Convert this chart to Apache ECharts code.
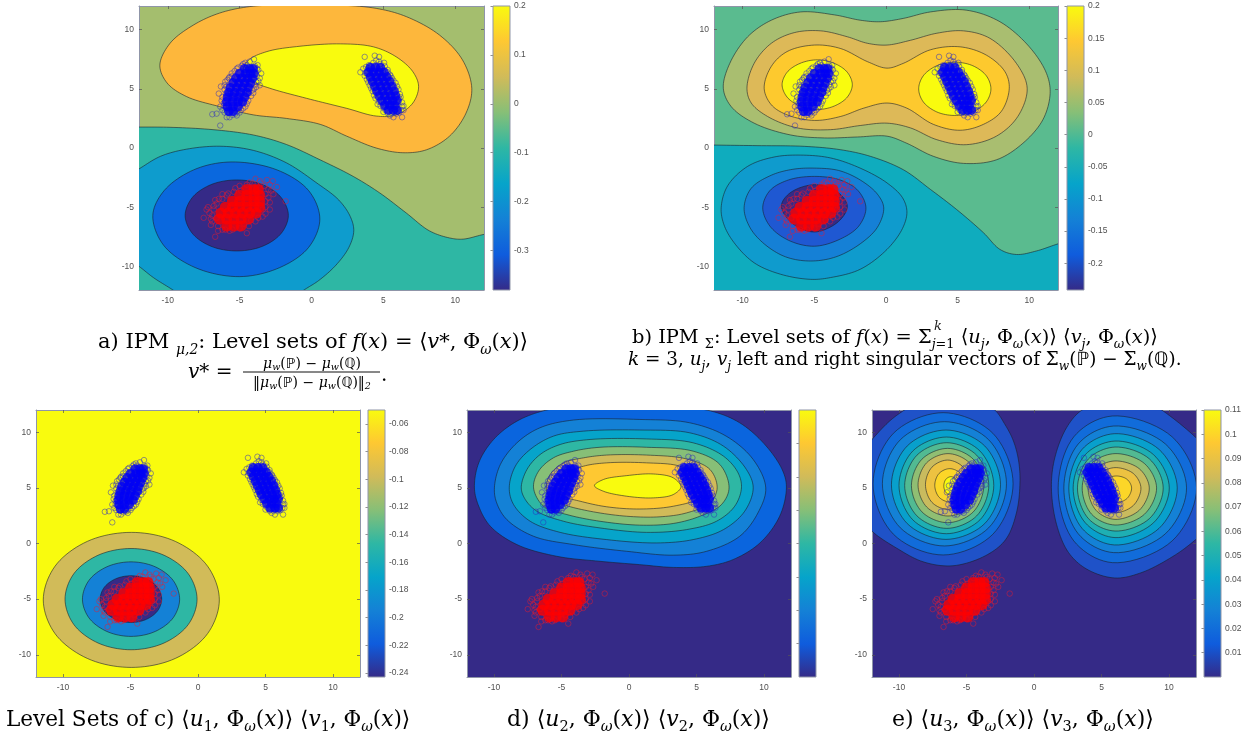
<!DOCTYPE html>
<html><head><meta charset="utf-8"><style>html,body{margin:0;padding:0;background:#fff}#c{width:1256px;height:733px}</style>
<script src="https://cdn.jsdelivr.net/npm/echarts@6/dist/echarts.min.js"></script></head><body><div id="c"></div><script>
const xTickValues=[-10,-5,0,5,10], yTickValues=[-10,-5,0,5,10];
const parula=['#352A87','#0F5CDD','#1481D6','#06A4CA','#2EB7A4','#87BF77','#D1BB59','#FEC832','#F9FB0E'];

const blueLeftCore=[[-5.75,3.1],[-5.45,3.1],[-5.85,3.5],[-5.45,3.5],[-5.1,3.5],[-5.9,3.9],[-5.5,3.9],[-5.1,3.9],[-4.8,3.9],[-5.85,4.3],[-5.45,4.3],[-5.05,4.3],[-4.65,4.3],[-5.75,4.7],[-5.35,4.7],[-4.95,4.7],[-4.5,4.7],[-5.65,5.1],[-5.2,5.1],[-4.8,5.1],[-4.4,5.1],[-5.45,5.5],[-5.05,5.5],[-4.65,5.5],[-4.25,5.5],[-5.25,5.9],[-4.85,5.9],[-4.45,5.9],[-4.1,5.9],[-5,6.3],[-4.6,6.3],[-4.25,6.3],[-4,6.3],[-4.65,6.7],[-4.3,6.7],[-4.05,6.7]];
const blueLeft=[[-6.35,1.9],[-6.9,2.85],[-6.6,2.9],[-5.9,2.6],[-5.7,2.6],[-6.2,3.2],[-6.35,3.5],[-5.3,2.9],[-5.5,2.8],[-5.15,3.1],[-6.1,3.8],[-6.45,4.6],[-6.2,4.3],[-6.3,5.2],[-6,5.6],[-6.05,4.95],[-5.7,6],[-5.75,5.9],[-5.35,6.5],[-5.1,6.8],[-4.75,7.1],[-4.3,7.3],[-4,7.5],[-3.75,7],[-3.5,6.3],[-3.7,6.6],[-3.6,5.9],[-3.6,5.3],[-3.85,5.6],[-4,5],[-4.2,4.4],[-4.4,4],[-4.6,3.5],[-4.9,3.2],[-4.1,4.9],[-5.95,4.6],[-5.95,3.4],[-3.8,6.1],[-3.8,6.7],[-4.5,7],[-5.9,5.2],[-5.55,6.3],[-5,3],[-6.1,3.55],[-5.55,6.05],[-4.85,6.95],[-4.35,4.65],[-3.95,5.35],[-6.25,4],[-6.05,5.3],[-5.85,5.75],[-5.2,6.7],[-4.6,7.2],[-3.95,6.95],[-3.7,5.65],[-3.85,5.15],[-4.05,4.65],[-4.5,3.75],[-4.75,3.35],[-5.2,2.75],[-6.05,3],[-5.75,2.95]];
const blueRightCore=[[4.1,6.8],[4.45,6.8],[4.8,6.8],[3.95,6.4],[4.3,6.4],[4.7,6.4],[5.05,6.4],[4.1,6],[4.5,6],[4.9,6],[5.25,6],[4.25,5.6],[4.65,5.6],[5.05,5.6],[5.45,5.6],[4.4,5.2],[4.8,5.2],[5.2,5.2],[5.6,5.2],[4.55,4.8],[4.95,4.8],[5.35,4.8],[5.75,4.8],[4.7,4.4],[5.1,4.4],[5.5,4.4],[5.85,4.4],[4.9,4],[5.3,4],[5.65,4],[5.95,4],[5.1,3.6],[5.45,3.6],[5.8,3.6],[5.35,3.2],[5.7,3.2],[5.95,3.2]];
const blueRight=[[3.7,7.7],[4.4,7.8],[4.7,7.7],[4.5,7.4],[3.4,6.4],[3.6,6.7],[4,7],[4.3,7.2],[3.8,6.85],[4.8,7.1],[5.1,6.9],[5.3,6.4],[5.6,5.9],[5.85,5.5],[6.05,4.95],[6.2,4.3],[6.15,4.55],[6.3,3.5],[6.4,3.2],[6.3,2.6],[6.1,3],[5.7,2.6],[5.9,2.9],[5.3,2.95],[5,3.4],[4.7,3.9],[4.45,4.2],[4.25,4.8],[4.05,5.3],[3.85,5.8],[3.7,6.1],[5,3.05],[4.8,3.55],[6.3,3.85],[5.6,2.95],[5.3,6.6],[5.45,6.2],[3.95,5.55],[4.7,7.3],[5.05,7.2],[3.95,6.75],[4.15,5.05],[6.1,4.2],[5.7,5.7],[5.5,6.1],[5.95,5.2],[3.75,6.35],[4.35,4.45],[4.6,3.7],[5.15,3.2],[5.45,2.75],[6.25,3.2],[6.4,3.55]];
const redCore=[[-5.9,-6.6],[-5.4,-6.6],[-4.9,-6.6],[-6.4,-6],[-5.9,-6],[-5.4,-6],[-4.9,-6],[-4.4,-6],[-6.3,-5.5],[-5.8,-5.5],[-5.3,-5.5],[-4.8,-5.5],[-4.3,-5.5],[-3.85,-5.5],[-6,-5],[-5.5,-5],[-5,-5],[-4.5,-5],[-4,-5],[-3.6,-5],[-5.5,-4.5],[-5,-4.5],[-4.5,-4.5],[-4,-4.5],[-3.6,-4.5],[-5,-4],[-4.5,-4],[-4,-4],[-3.6,-4],[-4.5,-3.5],[-4,-3.5],[-3.7,-3.5]];
const red=[[-3.9,-2.6],[-3.1,-2.7],[-2.7,-2.8],[-2.4,-3.3],[-1.8,-4.5],[-2.8,-3.6],[-2.65,-3.9],[-6.7,-7.5],[-4.5,-7.2],[-3.4,-5.8],[-7.5,-5.9],[-7.3,-5.2],[-7.2,-5],[-6.5,-7],[-7,-6.5],[-6.8,-5.2],[-6.9,-5.7],[-6.6,-4.7],[-6.2,-4.3],[-5.9,-4],[-5.4,-3.7],[-5,-3.2],[-4.5,-3.1],[-4.1,-3],[-3.5,-3],[-3.3,-3.2],[-3,-3.5],[-3,-4.2],[-2.9,-4.6],[-3.2,-5],[-3.4,-5.2],[-3.7,-5.9],[-4.2,-6.1],[-4.7,-6.4],[-5,-6.8],[-5.5,-6.9],[-6,-6.9],[-6.5,-6.6],[-7,-6],[-3.2,-3.9],[-2.9,-3.1],[-6.6,-5.9],[-3.2,-4.5],[-4.9,-3.6],[-5.7,-7],[-6.9,-6.2],[-6.45,-4.3],[-5.8,-3.85],[-6.8,-4.9],[-4.35,-6.6],[-5.3,-3.4],[-3.6,-2.8],[-4.3,-2.9],[-2.9,-5.2],[-3.2,-5.55],[-3.9,-6.2],[-6.2,-6.9],[-7.1,-5.5],[-6.2,-3.9],[-6.7,-4.4]];

// Panel a
const aOrange=[[-10.55,7],[-9.84,8.85],[-8.2,10.4],[-6.4,11.4],[-4.3,11.95],[-1.7,12.1],[1.5,12.1],[4.5,11.8],[6.6,11.1],[8.9,9.55],[10.5,7.45],[11.15,5.05],[10.75,2.95],[9.6,1],[8,-0.15],[6.35,-0.4],[4.5,0],[2.45,1],[0.6,2],[-1.75,2.5],[-4.05,2.8],[-6.4,3.5],[-8.7,4.35],[-10.05,5.5]];
const aYellow=[[-4.4,7.4],[-3.1,8.15],[-0.8,8.6],[2,8.8],[4.3,8.55],[5.9,7.7],[7.05,6.45],[7.45,5.2],[7.05,3.8],[5.9,2.8],[4.5,2.7],[2.45,3.35],[-0.35,4.2],[-2.9,5.05],[-4.05,5.6],[-4.75,6.45]];
const aTeal=[[-14,1.77],[-12,1.77],[-9.85,1.75],[-6.85,1.55],[-4.05,1.1],[-1.75,0.3],[0.6,-1],[2.9,-2.4],[4.75,-3.8],[6.6,-5.5],[8.2,-7],[9.6,-7.6],[10.55,-7.7],[12,-7.3],[14,-6.9],[15,-15],[-15,-15]];
const aCyan=[[-14,-3.3],[-12,-1.77],[-10.5,-0.7],[-8.7,-0.1],[-6.37,0.15],[-4.05,-0.2],[-1.75,-1.25],[0.3,-2.9],[1.9,-4.4],[2.7,-5.8],[2.94,-7],[2.6,-8.4],[1.7,-9.9],[0.5,-11.2],[-0.46,-11.95],[-3,-14],[-5,-15],[-8.4,-13],[-9.7,-11.95],[-11,-10.95],[-12,-10],[-14,-8.3]];
const aBlue=[[0.58,-6],[-0.2,-3.6],[-2.4,-1.85],[-5.6,-1.18],[-8.2,-1.85],[-10.25,-3.6],[-11.04,-5.7],[-10.3,-8.2],[-8.1,-10.1],[-5,-10.87],[-2.2,-10.1],[-0.2,-8.4]];
const aNavy=[[-1.61,-5.7],[-2.1,-4.2],[-3.4,-3.1],[-5.2,-2.7],[-7,-3.1],[-8.3,-4.2],[-8.79,-5.7],[-8.3,-7.2],[-7,-8.3],[-5.2,-8.7],[-3.4,-8.3],[-2.1,-7.2]];
const aTicks=[-0.3,-0.2,-0.1,0,0.1,0.2];

// Panel b
const bOlive=[[-11.35,5.05],[-10.9,7.15],[-9.65,9.4],[-8,10.8],[-5.95,11.5],[-3.6,11.25],[-1.8,10.8],[-0.4,10.67],[1.2,10.95],[3.1,11.5],[5.6,11.65],[7.95,10.67],[10,8.55],[11.2,6.3],[11.45,4.6],[10.95,2.4],[9.55,0.4],[7.7,-1],[5.4,-1.3],[3.3,-0.7],[1.45,0.4],[0.07,1],[-2,0.93],[-4.3,0.85],[-6.65,1.1],[-9.2,2.1],[-10.8,3.5]];
const bTan=[[-9.7,5.05],[-9.2,7.15],[-8,8.85],[-6.4,9.75],[-4.55,9.9],[-2.7,9.4],[-1.3,8.85],[0.07,8.7],[1.7,9.1],[3.55,9.7],[5.4,9.9],[7.25,9.27],[9.1,7.15],[9.85,5.05],[9.2,2.67],[7.7,1],[5.6,0.28],[3.55,0.7],[1.7,1.7],[0.07,2.1],[-1.8,1.9],[-3.87,1.55],[-6.2,1.7],[-8.27,2.67],[-9.4,3.8]];
const bGold=[[-8.5,5.05],[-8,6.9],[-6.9,8.15],[-5,8.7],[-3.15,8.4],[-1.3,7.3],[0.07,6.75],[1.2,7.15],[3.1,8.3],[5.17,8.55],[7,7.85],[8.3,6.45],[8.6,5.05],[8.05,3.1],[6.8,2],[5.17,1.5],[3.3,2],[1.45,3.37],[0.07,3.8],[-1.55,3.37],[-3.15,2.67],[-5,2.33],[-6.9,2.8],[-8,3.65]];
const bYellowL=[[-2.35,5.35],[-2.7,6.4],[-3.6,7.15],[-4.8,7.45],[-6,7.15],[-6.9,6.4],[-7.25,5.35],[-6.9,4.3],[-6,3.55],[-4.8,3.25],[-3.6,3.55],[-2.7,4.3]];
const bYellowR=[[7.32,5],[7,6.1],[6.06,6.95],[4.8,7.25],[3.54,6.95],[2.6,6.1],[2.28,5],[2.6,3.9],[3.54,3.05],[4.8,2.75],[6.06,3.05],[7,3.9]];
const bTeal=[[-14,0.3],[-12,0.25],[-9,0.2],[-5.7,0.14],[-3.2,-0.14],[-1.1,-0.7],[1.2,-1.83],[3.1,-3.5],[4.93,-5.2],[6.8,-7.16],[7.95,-8.57],[9.1,-9],[10.5,-8.7],[12,-8.1],[14,-7.4],[15,-15],[-15,-15]];
const bC1=[[-11.5,-5.05],[-11.05,-3.2],[-9.65,-1.55],[-7.8,-0.76],[-5.95,-0.6],[-3.87,-0.84],[-1.8,-1.7],[0.07,-2.95],[1.15,-4.2],[1.46,-5.4],[1.15,-6.8],[0.07,-8.57],[-1.8,-10.25],[-3.87,-10.95],[-5.25,-11.1],[-7.35,-10.67],[-9.2,-9.7],[-10.6,-8],[-11.3,-6.5]];
const bC2=[[-9.9,-5.05],[-9.4,-3.4],[-8,-2.3],[-6.5,-1.8],[-5,-1.7],[-3.3,-1.9],[-1.8,-2.7],[-0.6,-3.9],[-0.16,-5.05],[-0.6,-6.7],[-1.8,-8.1],[-3.5,-9.2],[-5.25,-9.55],[-7,-9.2],[-8.5,-8.1],[-9.5,-6.7]];
const bC3=[[-8.6,-5.05],[-8.1,-3.6],[-6.8,-2.7],[-5,-2.4],[-3.2,-2.7],[-1.95,-3.6],[-1.4,-5.05],[-1.9,-6.6],[-3.2,-7.7],[-5,-8.3],[-6.8,-7.8],[-8.1,-6.6]];
const bC4=[[-7.3,-4.9],[-6.7,-3.8],[-5,-3.1],[-3.4,-3.7],[-2.7,-4.9],[-3.3,-6.2],[-5,-7.1],[-6.6,-6.3]];
const bTicks=[-0.2,-0.15,-0.1,-0.05,0,0.05,0.1,0.15,0.2];

// Panel c
const cTan=[[1.58,-5.07],[0.71,-2.04],[-1.68,0.19],[-4.94,1],[-8.2,0.19],[-10.59,-2.04],[-11.46,-5.07],[-10.59,-8.1],[-8.2,-10.33],[-4.94,-11.14],[-1.68,-10.33],[0.71,-8.1]];
const cTeal=[[-0.07,-5],[-0.72,-2.72],[-2.51,-1.06],[-4.96,-0.45],[-7.41,-1.06],[-9.2,-2.72],[-9.85,-5],[-9.2,-7.28],[-7.41,-8.94],[-4.96,-9.55],[-2.51,-8.94],[-0.72,-7.28]];
const cBlue=[[-1.36,-5],[-1.84,-3.32],[-3.16,-2.1],[-4.96,-1.65],[-6.76,-2.1],[-8.08,-3.32],[-8.56,-5],[-8.08,-6.68],[-6.76,-7.9],[-4.96,-8.35],[-3.16,-7.9],[-1.84,-6.68]];
const cNavy=[[-2.69,-5],[-2.99,-3.95],[-3.83,-3.18],[-4.97,-2.9],[-6.11,-3.18],[-6.95,-3.95],[-7.25,-5],[-6.95,-6.05],[-6.11,-6.82],[-4.97,-7.1],[-3.83,-6.82],[-2.99,-6.05]];
const cTicks=[-0.24,-0.22,-0.2,-0.18,-0.16,-0.14,-0.12,-0.1,-0.08,-0.06];

// Panel d
const d1=[[-11.45,5],[-11.13,7.25],[-10.03,9.35],[-8.3,11],[-6.1,12],[-3.6,12.35],[1.3,12.4],[5.75,12],[8.2,10.85],[10.17,8.75],[11.4,6.5],[11.66,5],[11.16,2.45],[9.7,0.05],[7.7,-1.45],[5.75,-2.05],[3.28,-2.15],[0.8,-1.9],[-2.15,-1.6],[-5.35,-1.15],[-8.3,-0.1],[-10.27,1.55],[-11.13,3.35]];
const d2=[[-9.97,5],[-9.53,7.1],[-8.3,9.05],[-6.6,10.4],[-4.1,11.1],[0.8,11.15],[4.5,10.85],[7.2,9.65],[9.2,7.55],[10.13,5],[9.55,2.75],[8.2,0.65],[5.75,-0.7],[3.28,-1.05],[-0.17,-0.7],[-4.1,-0.1],[-7.07,0.65],[-9.05,2.15],[-9.8,3.65]];
const d3=[[-8.87,5],[-8.42,6.95],[-7.32,8.45],[-5.6,9.65],[-3.37,10.1],[0.8,10.2],[4.5,9.95],[7,8.75],[8.7,6.65],[9.2,5],[8.57,2.9],[7,1.25],[4.75,0.35],[2.05,0.05],[-1.65,0.35],[-5.1,1],[-7.32,2],[-8.55,3.5]];
const d4=[[-7.98,5],[-7.56,6.65],[-6.58,8],[-5.1,8.9],[-2.88,9.35],[1.3,9.4],[4.75,9.05],[7,7.85],[8.08,6.35],[8.33,5],[7.83,3.35],[6.48,2],[4.26,1.25],[1.3,1],[-2.15,1.4],[-4.85,2],[-6.82,2.9],[-7.68,3.95]];
const d5=[[-7.07,5],[-6.7,6.5],[-5.6,7.7],[-4.1,8.3],[-2.15,8.65],[1.3,8.65],[4.75,8.3],[6.73,7.1],[7.41,5],[6.85,3.5],[5.25,2.45],[3.28,1.8],[0.8,1.65],[-2.15,2],[-4.6,2.6],[-6.33,3.35]];
const d6=[[-6.13,5],[-5.84,6.2],[-4.85,7.25],[-3.37,7.7],[-1.65,7.95],[1.3,7.95],[4.26,7.6],[6,6.65],[6.53,5],[6,3.65],[4.26,2.75],[2.3,2.4],[-0.17,2.45],[-2.88,2.9],[-4.85,3.5],[-5.84,4.1]];
const d7=[[-5.47,5],[-4.85,6.2],[-3.37,6.95],[-1.65,7.25],[1.3,7.25],[3.77,6.95],[5.37,5.9],[5.7,5],[5.25,4.1],[3.28,3.35],[0.8,3.1],[-1.65,3.3],[-3.62,3.8],[-4.85,4.25]];
const d8=[[-2.56,5.2],[-1.9,5.75],[-0.17,6.1],[1.8,6.25],[3.28,5.9],[3.85,5.1],[3.28,4.4],[1.8,4.1],[-0.17,4.25],[-1.9,4.7]];
const dTicks=[0.01,0.02,0.03,0.04,0.05,0.06,0.07];

// Panel e
const eL1=[[-12,9.35],[-10.7,11],[-9.6,12],[-8,13.2],[-4.4,13.1],[-2.9,12],[-2.2,10.8],[-1.55,9.3],[-1.15,7.5],[-1.04,5.45],[-1.3,2.75],[-2.1,0.35],[-3.6,-1.1],[-6,-2],[-8.2,-1.65],[-10.2,-0.4],[-12,1.1],[-13.2,2.8],[-13.8,5.2],[-13.2,7.6]];
const eL2=[[-11.92,5.37],[-10.41,9.91],[-6.73,11.76],[-3.05,9.91],[-1.55,5.37],[-3.05,0.83],[-6.73,-1.03],[-10.41,0.83]];
const eL3=[[-11.23,5.37],[-9.9,9.33],[-6.63,10.95],[-3.36,9.33],[-2.04,5.37],[-3.36,1.41],[-6.63,-0.22],[-9.9,1.41]];
const eL4=[[-10.56,5.28],[-9.39,8.77],[-6.52,10.2],[-3.65,8.77],[-2.48,5.28],[-3.65,1.79],[-6.52,0.37],[-9.39,1.79]];
const eL5=[[-10,5.22],[-8.98,8.31],[-6.49,9.57],[-4,8.31],[-2.98,5.22],[-4,2.13],[-6.49,0.88],[-8.98,2.13]];
const eL6=[[-9.58,5.21],[-8.67,7.94],[-6.46,9.06],[-4.25,7.94],[-3.35,5.21],[-4.25,2.48],[-6.46,1.36],[-8.67,2.48]];
const eL7=[[-9.08,5.21],[-8.3,7.58],[-6.4,8.55],[-4.5,7.58],[-3.72,5.21],[-4.5,2.84],[-6.4,1.87],[-8.3,2.84]];
const eL8=[[-8.59,5.27],[-7.95,7.26],[-6.37,8.08],[-4.79,7.26],[-4.14,5.27],[-4.79,3.28],[-6.37,2.47],[-7.95,3.28]];
const eL9=[[-8.04,5.28],[-7.56,6.86],[-6.4,7.5],[-5.24,6.86],[-4.76,5.28],[-5.24,3.7],[-6.4,3.07],[-7.56,3.7]];
const eL10=[[-7.35,5.23],[-7.03,6.3],[-6.24,6.73],[-5.45,6.3],[-5.13,5.23],[-5.45,4.16],[-6.24,3.73],[-7.03,4.16]];
const eL11=[[-6.68,5.18],[-6.53,5.77],[-6.15,6.01],[-5.77,5.77],[-5.62,5.18],[-5.77,4.59],[-6.15,4.36],[-6.53,4.59]];
const eR1=[[1.29,5.02],[1.54,7.7],[2.41,10.41],[3.52,11.97],[5.37,12.8],[8.34,12.8],[9.57,11.91],[12,9.51],[13.77,7.12],[13.77,2.32],[12,0.37],[10.5,-1],[8,-2.6],[5.99,-3.1],[3.9,-2.3],[2.55,-0.8],[1.67,1.72]];
const eR2=[[1.79,5],[2.95,9.59],[5.8,11.46],[10.23,9.59],[12.04,5],[10.23,0.23],[5.8,-1.72],[2.95,0.23]];
const eR3=[[2.21,5],[3.28,8.95],[5.9,10.56],[9.73,8.95],[11.3,5],[9.73,0.87],[5.9,-0.82],[3.28,0.87]];
const eR4=[[2.58,5],[3.56,8.46],[5.95,9.87],[9.26,8.46],[10.61,5],[9.26,1.36],[5.95,-0.13],[3.56,1.36]];
const eR5=[[2.9,5],[3.8,7.99],[6,9.21],[8.85,7.99],[10.02,5],[8.85,1.86],[6,0.53],[3.8,1.86]];
const eR6=[[3.22,5],[4.03,7.6],[6,8.67],[8.55,7.6],[9.57,5],[8.55,2.24],[6,1.12],[4.03,2.24]];
const eR7=[[3.57,5],[4.27,7.19],[6,8.08],[8.18,7.19],[9.08,5],[8.18,2.63],[6,1.66],[4.27,2.63]];
const eR8=[[4.01,5],[4.59,6.72],[6,7.42],[7.8,6.72],[8.54,5],[7.8,2.99],[6,2.17],[4.59,2.99]];
const eR9=[[4.5,5],[4.93,6.29],[6,6.82],[7.36,6.29],[7.92,5],[7.36,3.42],[6,2.77],[4.93,3.42]];
const eR10=[[5,5],[5.32,5.76],[6.1,6.07],[6.9,5.76],[7.23,5],[6.9,4.06],[6.1,3.67],[5.32,4.06]];
const eTicks=[0.01,0.02,0.03,0.04,0.05,0.06,0.07,0.08,0.09,0.1,0.11];
const eBands=['#1F52C8','#116CDA','#1481D6','#08A0CC','#1EAFB3','#52BA92','#90BE73','#C9BB5E','#EDC241','#FCD628','#F9FB0E'];

const panels=[
 {l:139,t:6,w:345,h:284,cl:493,cw:17,bg:'#A4BE6E',range:[-0.381,0.2],ticks:aTicks,labels:true,
  rings:[[aOrange,'#FDB73C'],[aYellow,'#F9FB0E'],[aTeal,'#2EB7A4'],[aCyan,'#0E9CCD'],[aBlue,'#0A68DE'],[aNavy,'#352A87']]},
 {l:714,t:6,w:344,h:284,cl:1067,cw:17,bg:'#5ABB8F',range:[-0.2415,0.2],ticks:bTicks,labels:true,
  rings:[[bOlive,'#A9BE70'],[bTan,'#DDB958'],[bGold,'#FDC92E'],[bYellowL,'#F9FB0E'],[bYellowR,'#F9FB0E'],[bTeal,'#0FACBE'],[bC1,'#0F9BCD'],[bC2,'#1580D6'],[bC3,'#1F58D2'],[bC4,'#352A87']]},
 {l:36,t:410,w:324,h:267,cl:368,cw:17,bg:'#F9FB0E',range:[-0.2429,-0.0499],ticks:cTicks,labels:true,
  rings:[[cTan,'#D1BB59'],[cTeal,'#2EB7A4'],[cBlue,'#1481D6'],[cNavy,'#352A87']]},
 {l:467,t:410,w:324,h:267,cl:799,cw:17,bg:'#352A87',range:[0,0.08],ticks:dTicks,labels:false,
  rings:[[d1,'#0A65DE'],[d2,'#1481D6'],[d3,'#06A4CA'],[d4,'#2EB7A4'],[d5,'#87BF77'],[d6,'#D1BB59'],[d7,'#FEC832'],[d8,'#F9FB0E']]},
 {l:872,t:410,w:324,h:267,cl:1204,cw:17,bg:'#352A87',range:[0,0.11],ticks:eTicks,labels:true,
  rings:[[eL1,eBands[0]],[eL2,eBands[1]],[eL3,eBands[2]],[eL4,eBands[3]],[eL5,eBands[4]],[eL6,eBands[5]],[eL7,eBands[6]],[eL8,eBands[7]],[eL9,eBands[8]],[eL10,eBands[9]],[eL11,eBands[10]],
         [eR1,eBands[0]],[eR2,eBands[1]],[eR3,eBands[2]],[eR4,eBands[3]],[eR5,eBands[4]],[eR6,eBands[5]],[eR7,eBands[6]],[eR8,eBands[7]],[eR9,eBands[8]],[eR10,eBands[9]]]}
];

const frame='#8F95A8', tickCol='#555', labCol='#505050', axFont='Liberation Sans';
const grid=[],xAxis=[],yAxis=[],series=[];
function addAxes(gi,isX,arrVals,labels,mn,mx,pos,hideLabel){
  const a={gridIndex:gi,type:'value',min:mn,max:mx,position:pos,splitLine:{show:false},
    axisLine:{show:true,onZero:false,lineStyle:{color:frame,width:1}},
    axisTick:{show:true,inside:true,length:3,customValues:arrVals,lineStyle:{color:tickCol,width:0.7}},
    axisLabel:{show:!hideLabel,customValues:arrVals,color:labCol,fontSize:8.5,fontFamily:axFont,margin:isX?6:5,formatter:v=>String(v),hideOverlap:false}};
  (isX?xAxis:yAxis).push(a);return (isX?xAxis:yAxis).length-1;
}
// closed centripetal Catmull-Rom through pixel points obtained from api.coord
function closedCurve(px){
  const n=px.length,out=[];
  const d=(a,b)=>Math.max(1e-3,Math.sqrt(Math.hypot(a[0]-b[0],a[1]-b[1])));
  for(let i=0;i<n;i++){
    const p0=px[(i-1+n)%n],p1=px[i],p2=px[(i+1)%n],p3=px[(i+2)%n];
    const t0=d(p0,p1),t1=d(p1,p2),t2=d(p2,p3);
    const m=[0,1].map(k=>[
      ((p1[k]-p0[k])/t0-(p2[k]-p0[k])/(t0+t1)+(p2[k]-p1[k])/t1)*t1,
      ((p2[k]-p1[k])/t1-(p3[k]-p1[k])/(t1+t2)+(p3[k]-p2[k])/t2)*t1]);
    for(let j=0;j<10;j++){
      const s=j/10,s2=s*s,s3=s2*s;
      const h00=2*s3-3*s2+1,h10=s3-2*s2+s,h01=-2*s3+3*s2,h11=s3-s2;
      out.push([0,1].map(k=>h00*p1[k]+h10*m[k][0]+h01*p2[k]+h11*m[k][1]));
    }
  }
  return out;
}
function polygon(points,fill,xi,yi){
  return {type:'custom',xAxisIndex:xi,yAxisIndex:yi,clip:true,silent:true,animation:false,data:points,encode:{x:0,y:1},
    renderItem:function(p,api){
      if(p.dataIndex!==0) return null;
      return {type:'polygon',shape:{points:closedCurve(points.map(q=>api.coord(q)))},
        style:{fill:fill,stroke:'rgba(25,30,40,0.72)',lineWidth:0.8}};
    }};
}
function dots(points,xi,yi,size,style){
  return {type:'scatter',xAxisIndex:xi,yAxisIndex:yi,data:points,symbol:'circle',symbolSize:size,silent:true,animation:false,clip:true,itemStyle:style};
}
panels.forEach(P=>{
  const g=grid.length;
  grid.push({left:P.l,top:P.t,width:P.w,height:P.h,show:true,backgroundColor:P.bg,borderWidth:0});
  const xi=addAxes(g,true,xTickValues,true,-12,12,'bottom',false);
  const yi=addAxes(g,false,yTickValues,true,-12,12,'left',false);
  addAxes(g,true,xTickValues,true,-12,12,'top',true);
  addAxes(g,false,yTickValues,true,-12,12,'right',true);
  P.rings.forEach(r=>series.push(polygon(r[0],r[1],xi,yi)));
  const blueLine={color:'rgba(0,0,0,0)',borderColor:'rgba(45,45,190,0.8)',borderWidth:0.8};
  const redLine={color:'rgba(0,0,0,0)',borderColor:'rgba(235,25,45,0.75)',borderWidth:0.8};
  series.push(dots(blueLeft,xi,yi,5.5,blueLine),dots(blueRight,xi,yi,5.5,blueLine),
    dots(blueLeftCore,xi,yi,9.5,{color:'#0000F5'}),dots(blueRightCore,xi,yi,9.5,{color:'#0000F5'}),
    dots(red,xi,yi,5.5,redLine),dots(redCore,xi,yi,11,{color:'#FF0000'}));
  // colour bar
  const cg=grid.length;
  grid.push({left:P.cl,top:P.t,width:P.cw,height:P.h});
  xAxis.push({gridIndex:cg,type:'value',min:0,max:1,show:false});
  const cx=xAxis.length-1;
  yAxis.push({gridIndex:cg,type:'value',min:P.range[0],max:P.range[1],position:'right',splitLine:{show:false},
    axisLine:{show:false},
    axisTick:{show:true,inside:true,length:2.5,customValues:P.ticks,lineStyle:{color:'#444',width:0.6}},
    axisLabel:{show:P.labels,customValues:P.ticks,color:labCol,fontSize:8.5,fontFamily:axFont,margin:4,formatter:v=>String(v),hideOverlap:false}});
  const cy=yAxis.length-1;
  const bar=[[0,P.range[0]],[1,P.range[1]]];
  series.push({type:'custom',xAxisIndex:cx,yAxisIndex:cy,silent:true,animation:false,data:bar,encode:{x:0,y:1},
    renderItem:function(p,api){
      if(p.dataIndex!==0) return null;
      const a=api.coord(bar[0]),b=api.coord(bar[1]);
      return {type:'rect',shape:{x:a[0],y:b[1],width:b[0]-a[0],height:a[1]-b[1]},
        style:{stroke:frame,lineWidth:1,fill:{type:'linear',x:0,y:1,x2:0,y2:0,
          colorStops:parula.map((c,i)=>({offset:i/(parula.length-1),color:c}))}}};
    }});
});

const serif='"DejaVu Serif","Liberation Serif",serif';
const ink='#1c1c1c';
function richSet(sz){return {
  n:{fontFamily:serif,fontSize:sz,color:ink,lineHeight:sz+7},
  i:{fontFamily:serif,fontSize:sz,fontStyle:'italic',color:ink,lineHeight:sz+7},
  s:{fontFamily:serif,fontSize:sz*0.66,fontStyle:'italic',color:ink,verticalAlign:'bottom',lineHeight:sz+4},
  sn:{fontFamily:serif,fontSize:sz*0.66,color:ink,verticalAlign:'bottom',lineHeight:sz+4},
  m:{fontFamily:serif,fontSize:14,color:ink},
  mi:{fontFamily:serif,fontSize:14,fontStyle:'italic',color:ink},
  ms:{fontFamily:serif,fontSize:9.5,fontStyle:'italic',color:ink,verticalAlign:'bottom',lineHeight:17},
  P:{fontFamily:'"DejaVu Sans"',fontSize:sz,color:'#3A3ACD',lineHeight:sz+7},
  Q:{fontFamily:'"DejaVu Sans"',fontSize:sz,color:'#E8202A',lineHeight:sz+7},
  mP:{fontFamily:'"DejaVu Sans"',fontSize:14,color:'#3A3ACD'},
  mQ:{fontFamily:'"DejaVu Sans"',fontSize:14,color:'#E8202A'}
};}
function cap(x,y,text,sz,al){return {type:'text',x:x,y:y,silent:true,style:{text:text,rich:richSet(sz),verticalAlign:'middle',align:al||'left',font:sz+'px "DejaVu Serif"'}};}
const phi='{n|Φ}{s|ω}{n|(}{i|x}{n|)⟩}';
const graphic=[
 cap(98,343,'{n|a) IPM }{s|μ,2}{n|: Level sets of }{i|f}{n|(}{i|x}{n|) = ⟨}{i|v}{n|*, }'+phi,21),
 cap(188,373,'{i|v}{n|* =}',20),
 cap(312,364,'{mi|μ}{ms|w}{m|(}{mP|ℙ}{m|) − }{mi|μ}{ms|w}{m|(}{mQ|ℚ}{m|)}',14,'center'),
 cap(312,383,'{m|‖}{mi|μ}{ms|w}{m|(}{mP|ℙ}{m|) − }{mi|μ}{ms|w}{m|(}{mQ|ℚ}{m|)‖}{ms|2}',14,'center'),
 cap(381,376,'{n|.}',20),
 {type:'line',silent:true,shape:{x1:243,y1:372,x2:380,y2:372},style:{stroke:'#111',lineWidth:1}},
 cap(632,338,'{n|b) IPM }{sn|Σ}{n|: Level sets of }{i|f}{n|(}{i|x}{n|) = Σ}{s|j}{sn|=1}{n| ⟨}{i|u}{s|j}{n|, }'+phi+'{n| ⟨}{i|v}{s|j}{n|, }'+phi,19.4),
 {type:'text',x:934,y:327,silent:true,style:{text:'k',font:'italic 13px "DejaVu Serif"',fill:ink,verticalAlign:'middle'}},
 cap(628,360,'{i|k}{n| = 3, }{i|u}{s|j}{n|, }{i|v}{s|j}{n| left and right singular vectors of Σ}{s|w}{n|(}{P|ℙ}{n|) − Σ}{s|w}{n|(}{Q|ℚ}{n|).}',18.4),
 cap(6,720,'{n|Level Sets of c) ⟨}{i|u}{sn|1}{n|, }'+phi+'{n| ⟨}{i|v}{sn|1}{n|, }'+phi,21.6),
 cap(507,720,'{n|d) ⟨}{i|u}{sn|2}{n|, }'+phi+'{n| ⟨}{i|v}{sn|2}{n|, }'+phi,22),
 cap(892,720,'{n|e) ⟨}{i|u}{sn|3}{n|, }'+phi+'{n| ⟨}{i|v}{sn|3}{n|, }'+phi,22)
];
const chart=echarts.init(document.getElementById('c'),null,{renderer:'canvas'});
chart.setOption({animation:false,backgroundColor:'#fff',grid,xAxis,yAxis,series,graphic});
</script></body></html>
